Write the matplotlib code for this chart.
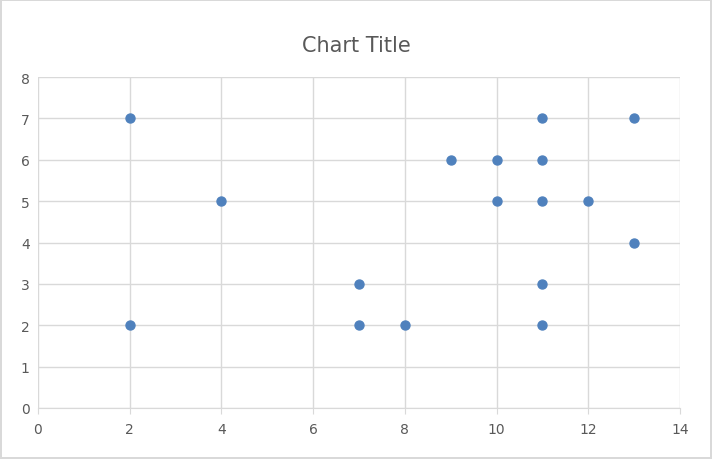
import matplotlib
matplotlib.use("Agg")
import matplotlib.pyplot as plt

x_vals = [2, 2, 4, 7, 7, 8, 9, 10, 10, 11, 11, 11, 11, 11, 12, 13, 13]
y_vals = [7, 2, 5, 3, 2, 2, 6, 6, 5, 7, 6, 5, 3, 2, 5, 7, 4]
title = "Chart Title"

fig = plt.figure(figsize=(7.12, 4.6), dpi=100)
fig.patch.set_edgecolor("#d9d9d9")
fig.patch.set_linewidth(1.5)
ax = fig.add_axes([38 / 712, 51 / 460, 642 / 712, 331 / 460])

ax.scatter(x_vals, y_vals, s=42, color="#4f81bd", zorder=3)
ax.set_xlim(0, 14)
ax.set_ylim(0, 8)
ax.set_xticks(range(0, 15, 2))
ax.set_yticks(range(0, 9))
ax.grid(True, color="#d9d9d9", linewidth=1)
for side in ["top", "right", "left"]:
    ax.spines[side].set_visible(False)
ax.spines["bottom"].set_color("#d9d9d9")
ax.tick_params(colors="#595959", labelsize=10, length=0, pad=6)
ax.tick_params(axis="x", length=4, color="#d9d9d9", direction="out")
fig.text(0.5, 0.9, title, ha="center", va="center", fontsize=15, color="#595959")

fig.savefig("out.png", dpi=100)
